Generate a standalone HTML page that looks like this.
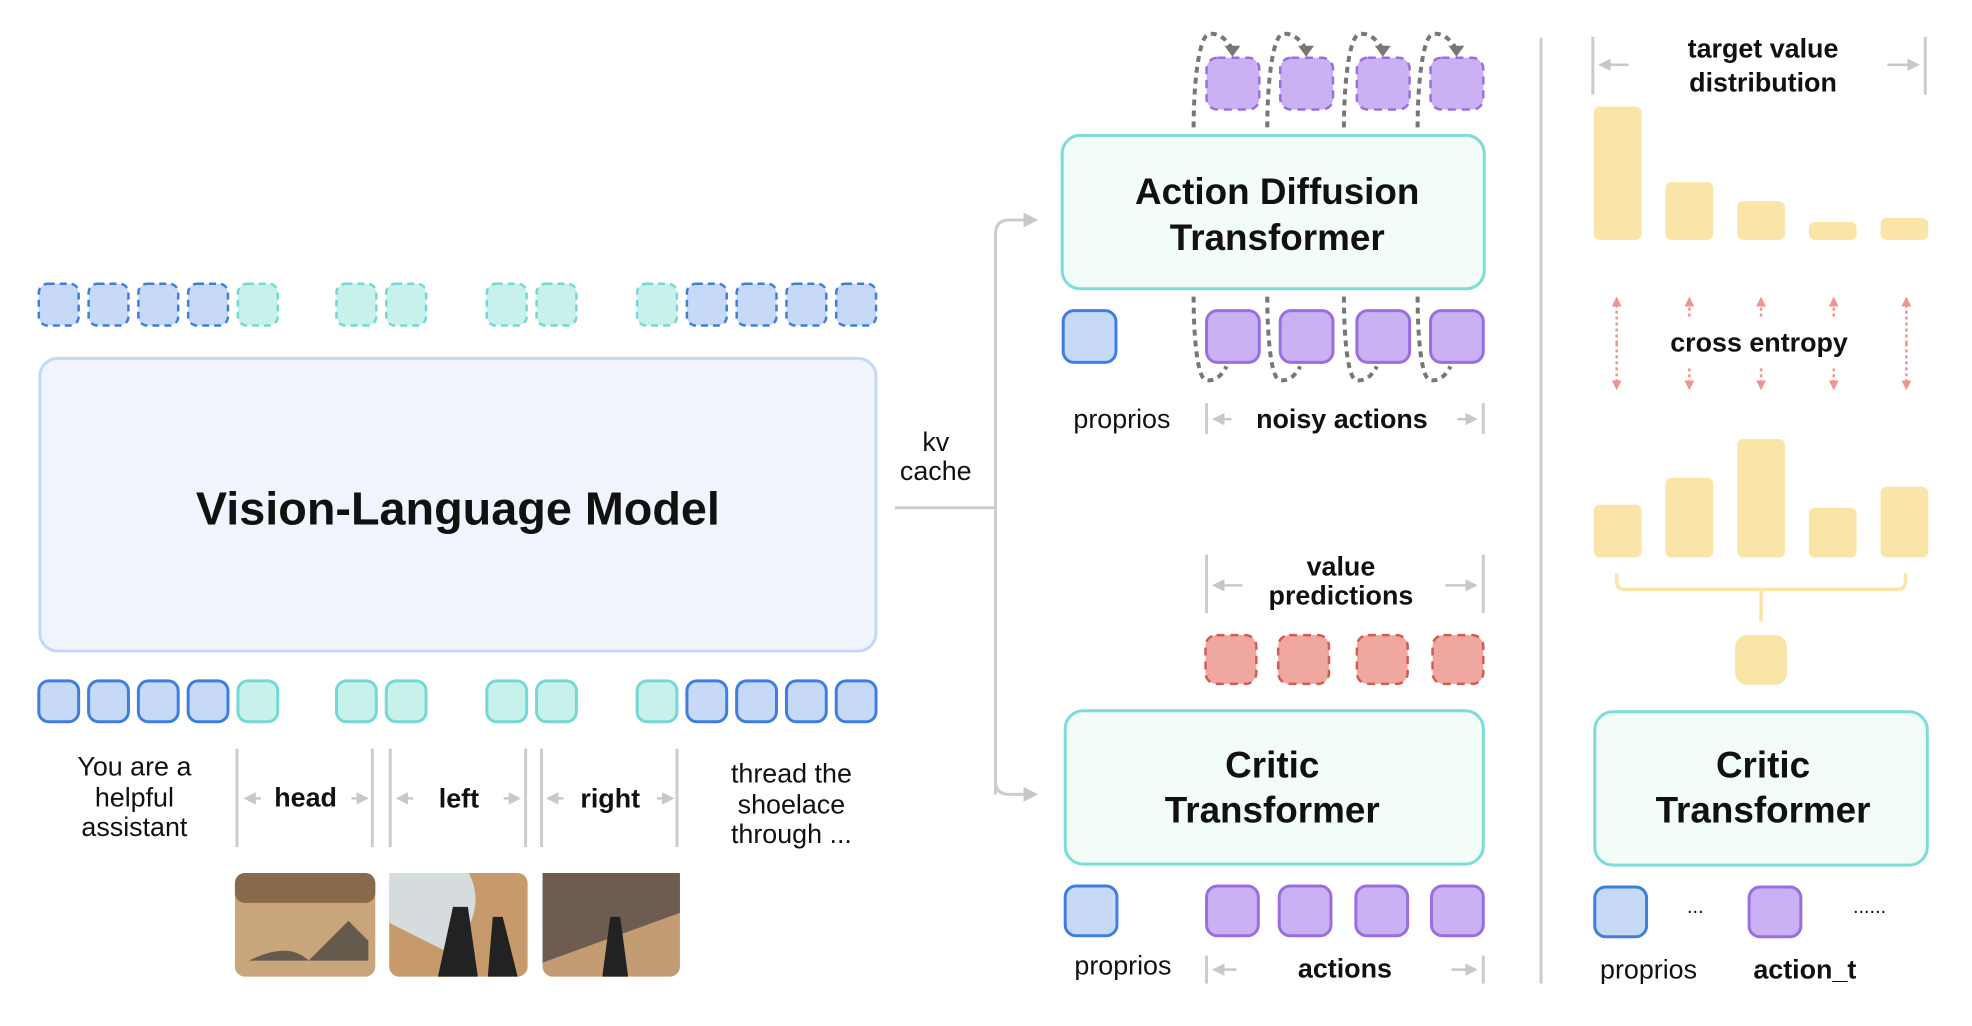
<!DOCTYPE html>
<html><head><meta charset="utf-8"><style>
html,body{margin:0;padding:0;background:#fff;}
svg{display:block;}
text{font-family:"Liberation Sans",sans-serif;fill:#111;}
.b{font-weight:bold;}
</style></head><body>
<svg width="1972" height="1026" viewBox="0 0 1972 1026" xmlns="http://www.w3.org/2000/svg">
<defs>
<marker id="ga" viewBox="0 0 10 10" refX="8" refY="5" markerWidth="5" markerHeight="5" orient="auto"><path d="M0,0 L10,5 L0,10 z" fill="#c8c8c8"/></marker>
<marker id="ra" viewBox="0 0 10 10" refX="8" refY="5" markerWidth="4" markerHeight="4" orient="auto"><path d="M0,0 L10,5 L0,10 z" fill="#f0958e"/></marker>
</defs>
<g transform="scale(0.9955)">
<!-- VLM top dashed tokens -->
<g stroke-width="2.5" stroke-dasharray="7,5">
<g fill="#c6daf8" stroke="#3f7ee0">
<rect x="39" y="285" width="40" height="42" rx="9"/><rect x="89" y="285" width="40" height="42" rx="9"/><rect x="139" y="285" width="40" height="42" rx="9"/><rect x="189" y="285" width="40" height="42" rx="9"/>
<rect x="690" y="285" width="40" height="42" rx="9"/><rect x="740" y="285" width="40" height="42" rx="9"/><rect x="790" y="285" width="40" height="42" rx="9"/><rect x="840" y="285" width="40" height="42" rx="9"/>
</g>
<g fill="#c8f1ec" stroke="#72d9d4">
<rect x="239" y="285" width="40" height="42" rx="9"/><rect x="338" y="285" width="40" height="42" rx="9"/><rect x="388" y="285" width="40" height="42" rx="9"/>
<rect x="489" y="285" width="40" height="42" rx="9"/><rect x="539" y="285" width="40" height="42" rx="9"/><rect x="640" y="285" width="40" height="42" rx="9"/>
</g></g>

<!-- VLM box -->
<rect x="40" y="360" width="840" height="294" rx="18" fill="#eff4fd" stroke="#c5d7f8" stroke-width="3"/>
<text x="460" y="527" font-size="47" class="b" text-anchor="middle">Vision-Language Model</text>

<!-- VLM bottom solid tokens -->
<g stroke-width="3">
<g fill="#c6daf8" stroke="#3f7ee0">
<rect x="39" y="684" width="40" height="41" rx="10"/><rect x="89" y="684" width="40" height="41" rx="10"/><rect x="139" y="684" width="40" height="41" rx="10"/><rect x="189" y="684" width="40" height="41" rx="10"/>
<rect x="690" y="684" width="40" height="41" rx="10"/><rect x="740" y="684" width="40" height="41" rx="10"/><rect x="790" y="684" width="40" height="41" rx="10"/><rect x="840" y="684" width="40" height="41" rx="10"/>
</g>
<g fill="#c8f1ec" stroke="#72d9d4">
<rect x="239" y="684" width="40" height="41" rx="10"/><rect x="338" y="684" width="40" height="41" rx="10"/><rect x="388" y="684" width="40" height="41" rx="10"/>
<rect x="489" y="684" width="40" height="41" rx="10"/><rect x="539" y="684" width="40" height="41" rx="10"/><rect x="640" y="684" width="40" height="41" rx="10"/>
</g></g>

<!-- text labels -->
<g font-size="27" text-anchor="middle">
<text x="135" y="779">You are a</text><text x="135" y="810">helpful</text><text x="135" y="840">assistant</text>
<text x="795" y="786">thread the</text><text x="795" y="817">shoelace</text><text x="795" y="847">through ...</text>
<text x="307" y="810" class="b">head</text><text x="461" y="811" class="b">left</text><text x="613" y="811" class="b">right</text>
</g>
<g stroke="#cccccc" stroke-width="3">
<line x1="238" y1="752" x2="238" y2="851"/><line x1="374" y1="752" x2="374" y2="851"/>
<line x1="392" y1="752" x2="392" y2="851"/><line x1="528" y1="752" x2="528" y2="851"/>
<line x1="544" y1="752" x2="544" y2="851"/><line x1="680" y1="752" x2="680" y2="851"/>
</g>
<g stroke="#c8c8c8" stroke-width="2.5" fill="none" marker-end="url(#ga)">
<line x1="262" y1="802" x2="247" y2="802"/><line x1="353" y1="802" x2="368" y2="802"/>
<line x1="415" y1="802" x2="400" y2="802"/><line x1="506" y1="802" x2="521" y2="802"/>
<line x1="566" y1="802" x2="551" y2="802"/><line x1="660" y1="802" x2="675" y2="802"/>
</g>

<!-- images -->
<rect x="236" y="877" width="141" height="104" rx="10" fill="#c9a57c"/>
<rect x="236" y="877" width="141" height="30" rx="10" fill="#8a6a4c"/>
<path d="M250 965 q40 -20 60 0 l40 -40 l20 20 v20 z" fill="#3a3a3a" opacity="0.7"/>
<rect x="391" y="877" width="139" height="104" rx="10" fill="#c79a6b"/>
<path d="M391 877 h80 q20 40 -20 80 l-60 -30z" fill="#d6dbde"/>
<path d="M440 981 l15 -70 h15 l10 70z M490 981 l5 -60 h10 l15 60z" fill="#222"/>
<rect x="545" y="877" width="138" height="104" rx="10" fill="#c49c74"/>
<path d="M545 877 h138 v40 l-138 50z" fill="#6e5c50"/>
<path d="M605 981 l8 -60 h10 l8 60z" fill="#222"/>

<!-- kv cache connector -->
<text x="940" y="453" font-size="27" text-anchor="middle">kv</text>
<text x="940" y="482" font-size="27" text-anchor="middle">cache</text>
<g stroke="#cccccc" stroke-width="3" fill="none">
<line x1="899" y1="510" x2="1000" y2="510"/>
<path d="M1000 798 V235 q0 -14 14 -14 H1040" marker-end="url(#ga)"/>
<path d="M1000 510 V784 q0 14 14 14 H1040" marker-end="url(#ga)"/>
</g>

<!-- ADT -->
<rect x="1067" y="136" width="424" height="154" rx="18" fill="#f3fdf7" stroke="#7cdcd9" stroke-width="3"/>
<text x="1283" y="205" font-size="37" class="b" text-anchor="middle">Action Diffusion</text>
<text x="1283" y="251" font-size="37" class="b" text-anchor="middle">Transformer</text>

<!-- top dashed purple tokens with loops -->
<g fill="#c9b1f4" stroke="#9a6ee0" stroke-width="2.5" stroke-dasharray="8,6">
<rect x="1212" y="58" width="53" height="52" rx="11"/><rect x="1286" y="58" width="53" height="52" rx="11"/>
<rect x="1363" y="58" width="53" height="52" rx="11"/><rect x="1437" y="58" width="53" height="52" rx="11"/>
</g>
<g stroke="#777" stroke-width="4" stroke-dasharray="6,5" fill="none">
<path d="M1199 128 C1199 80 1205 34 1215 34 C1225 33 1232 40 1237 48"/>
<path d="M1273 128 C1273 80 1279 34 1289 34 C1299 33 1306 40 1311 48"/>
<path d="M1350 128 C1350 80 1356 34 1366 34 C1376 33 1383 40 1388 48"/>
<path d="M1424 128 C1424 80 1430 34 1440 34 C1450 33 1457 40 1462 48"/>
</g>
<g fill="#777">
<path d="M1230 46 h16 l-8 11z"/><path d="M1304 46 h16 l-8 11z"/><path d="M1381 46 h16 l-8 11z"/><path d="M1455 46 h16 l-8 11z"/>
</g>

<!-- noisy action tokens -->
<rect x="1068" y="312" width="53" height="52" rx="11" fill="#c6daf8" stroke="#3f7ee0" stroke-width="3"/>
<g fill="#c9b1f4" stroke="#9a6ee0" stroke-width="3">
<rect x="1212" y="312" width="53" height="52" rx="11"/><rect x="1286" y="312" width="53" height="52" rx="11"/>
<rect x="1363" y="312" width="53" height="52" rx="11"/><rect x="1437" y="312" width="53" height="52" rx="11"/>
</g>
<g stroke="#777" stroke-width="4" stroke-dasharray="6,5" fill="none">
<path d="M1199 298 C1199 340 1203 382 1212 382 C1222 383 1228 376 1232 368"/>
<path d="M1273 298 C1273 340 1277 382 1286 382 C1296 383 1302 376 1306 368"/>
<path d="M1350 298 C1350 340 1354 382 1363 382 C1373 383 1379 376 1383 368"/>
<path d="M1424 298 C1424 340 1428 382 1437 382 C1447 383 1453 376 1457 368"/>
</g>
<text x="1127" y="430" font-size="27" text-anchor="middle">proprios</text>
<text x="1348" y="430" font-size="27" class="b" text-anchor="middle">noisy actions</text>
<g stroke="#cccccc" stroke-width="3"><line x1="1212" y1="405" x2="1212" y2="436"/><line x1="1490" y1="405" x2="1490" y2="436"/></g>
<g stroke="#c8c8c8" stroke-width="2.5" marker-end="url(#ga)"><line x1="1237" y1="421" x2="1220" y2="421"/><line x1="1464" y1="421" x2="1482" y2="421"/></g>

<!-- value predictions -->
<text x="1347" y="578" font-size="27" class="b" text-anchor="middle">value</text>
<text x="1347" y="607" font-size="27" class="b" text-anchor="middle">predictions</text>
<g stroke="#cccccc" stroke-width="3"><line x1="1212" y1="557" x2="1212" y2="616"/><line x1="1490" y1="557" x2="1490" y2="616"/></g>
<g stroke="#c8c8c8" stroke-width="2.5" marker-end="url(#ga)"><line x1="1248" y1="588" x2="1220" y2="588"/><line x1="1452" y1="588" x2="1482" y2="588"/></g>
<g fill="#f0a7a0" stroke="#d65a52" stroke-width="2.5" stroke-dasharray="8,6">
<rect x="1211" y="638" width="51" height="49" rx="11"/><rect x="1284" y="638" width="51" height="49" rx="11"/>
<rect x="1363" y="638" width="51" height="49" rx="11"/><rect x="1439" y="638" width="51" height="49" rx="11"/>
</g>

<!-- Critic left -->
<rect x="1070" y="714" width="420" height="154" rx="18" fill="#f3fdf7" stroke="#7cdcd9" stroke-width="3"/>
<text x="1278" y="781" font-size="37" class="b" text-anchor="middle">Critic</text>
<text x="1278" y="826" font-size="37" class="b" text-anchor="middle">Transformer</text>
<rect x="1070" y="890" width="52" height="50" rx="11" fill="#c6daf8" stroke="#3f7ee0" stroke-width="3"/>
<g fill="#c9b1f4" stroke="#9a6ee0" stroke-width="3">
<rect x="1212" y="890" width="52" height="50" rx="11"/><rect x="1285" y="890" width="52" height="50" rx="11"/>
<rect x="1362" y="890" width="52" height="50" rx="11"/><rect x="1438" y="890" width="52" height="50" rx="11"/>
</g>
<text x="1128" y="979" font-size="27" text-anchor="middle">proprios</text>
<text x="1351" y="982" font-size="27" class="b" text-anchor="middle">actions</text>
<g stroke="#cccccc" stroke-width="3"><line x1="1212" y1="960" x2="1212" y2="988"/><line x1="1490" y1="960" x2="1490" y2="988"/></g>
<g stroke="#c8c8c8" stroke-width="2.5" marker-end="url(#ga)"><line x1="1242" y1="974" x2="1220" y2="974"/><line x1="1458" y1="974" x2="1482" y2="974"/></g>

<!-- divider -->
<line x1="1548" y1="38" x2="1548" y2="988" stroke="#cccccc" stroke-width="3"/>

<!-- right column -->
<text x="1771" y="58" font-size="27" class="b" text-anchor="middle">target value</text>
<text x="1771" y="92" font-size="27" class="b" text-anchor="middle">distribution</text>
<g stroke="#cccccc" stroke-width="3"><line x1="1600" y1="37" x2="1600" y2="95"/><line x1="1934" y1="37" x2="1934" y2="95"/></g>
<g stroke="#c8c8c8" stroke-width="2.5" marker-end="url(#ga)"><line x1="1636" y1="65" x2="1608" y2="65"/><line x1="1896" y1="65" x2="1926" y2="65"/></g>

<g fill="#fae5a8">
<rect x="1601" y="107" width="48" height="134" rx="6"/><rect x="1673" y="183" width="48" height="58" rx="6"/>
<rect x="1745" y="202" width="48" height="39" rx="6"/><rect x="1817" y="223" width="48" height="18" rx="6"/>
<rect x="1889" y="219" width="48" height="22" rx="6"/>
<rect x="1601" y="507" width="48" height="53" rx="6"/><rect x="1673" y="480" width="48" height="80" rx="6"/>
<rect x="1745" y="441" width="48" height="119" rx="6"/><rect x="1817" y="510" width="48" height="50" rx="6"/>
<rect x="1889" y="489" width="48" height="71" rx="6"/>
<rect x="1743" y="638" width="52" height="50" rx="12"/>
</g>
<path d="M1624 576 v8 q0 8 8 8 H1906 q8 0 8 -8 v-8 M1769 592 V624" stroke="#fae5a8" stroke-width="3.5" fill="none"/>

<text x="1767" y="353" font-size="27" class="b" text-anchor="middle">cross entropy</text>
<g stroke="#f0958e" stroke-width="2.5" stroke-dasharray="3,3" fill="none">
<line x1="1624" y1="345" x2="1624" y2="300" marker-end="url(#ra)"/><line x1="1624" y1="345" x2="1624" y2="390" marker-end="url(#ra)"/>
<line x1="1915" y1="345" x2="1915" y2="300" marker-end="url(#ra)"/><line x1="1915" y1="345" x2="1915" y2="390" marker-end="url(#ra)"/>
<line x1="1697" y1="318" x2="1697" y2="300" marker-end="url(#ra)"/><line x1="1697" y1="370" x2="1697" y2="390" marker-end="url(#ra)"/>
<line x1="1769" y1="318" x2="1769" y2="300" marker-end="url(#ra)"/><line x1="1769" y1="370" x2="1769" y2="390" marker-end="url(#ra)"/>
<line x1="1842" y1="318" x2="1842" y2="300" marker-end="url(#ra)"/><line x1="1842" y1="370" x2="1842" y2="390" marker-end="url(#ra)"/>
</g>

<rect x="1602" y="715" width="334" height="154" rx="18" fill="#f3fdf7" stroke="#7cdcd9" stroke-width="3"/>
<text x="1771" y="781" font-size="37" class="b" text-anchor="middle">Critic</text>
<text x="1771" y="826" font-size="37" class="b" text-anchor="middle">Transformer</text>
<rect x="1602" y="891" width="52" height="50" rx="11" fill="#c6daf8" stroke="#3f7ee0" stroke-width="3"/>
<rect x="1757" y="891" width="52" height="50" rx="11" fill="#c9b1f4" stroke="#9a6ee0" stroke-width="3"/>
<text x="1703" y="917" font-size="20" text-anchor="middle">...</text>
<text x="1878" y="917" font-size="20" text-anchor="middle">......</text>
<text x="1656" y="983" font-size="27" text-anchor="middle">proprios</text>
<text x="1813" y="983" font-size="27" class="b" text-anchor="middle">action_t</text>
</g>
</svg>
</body></html>
